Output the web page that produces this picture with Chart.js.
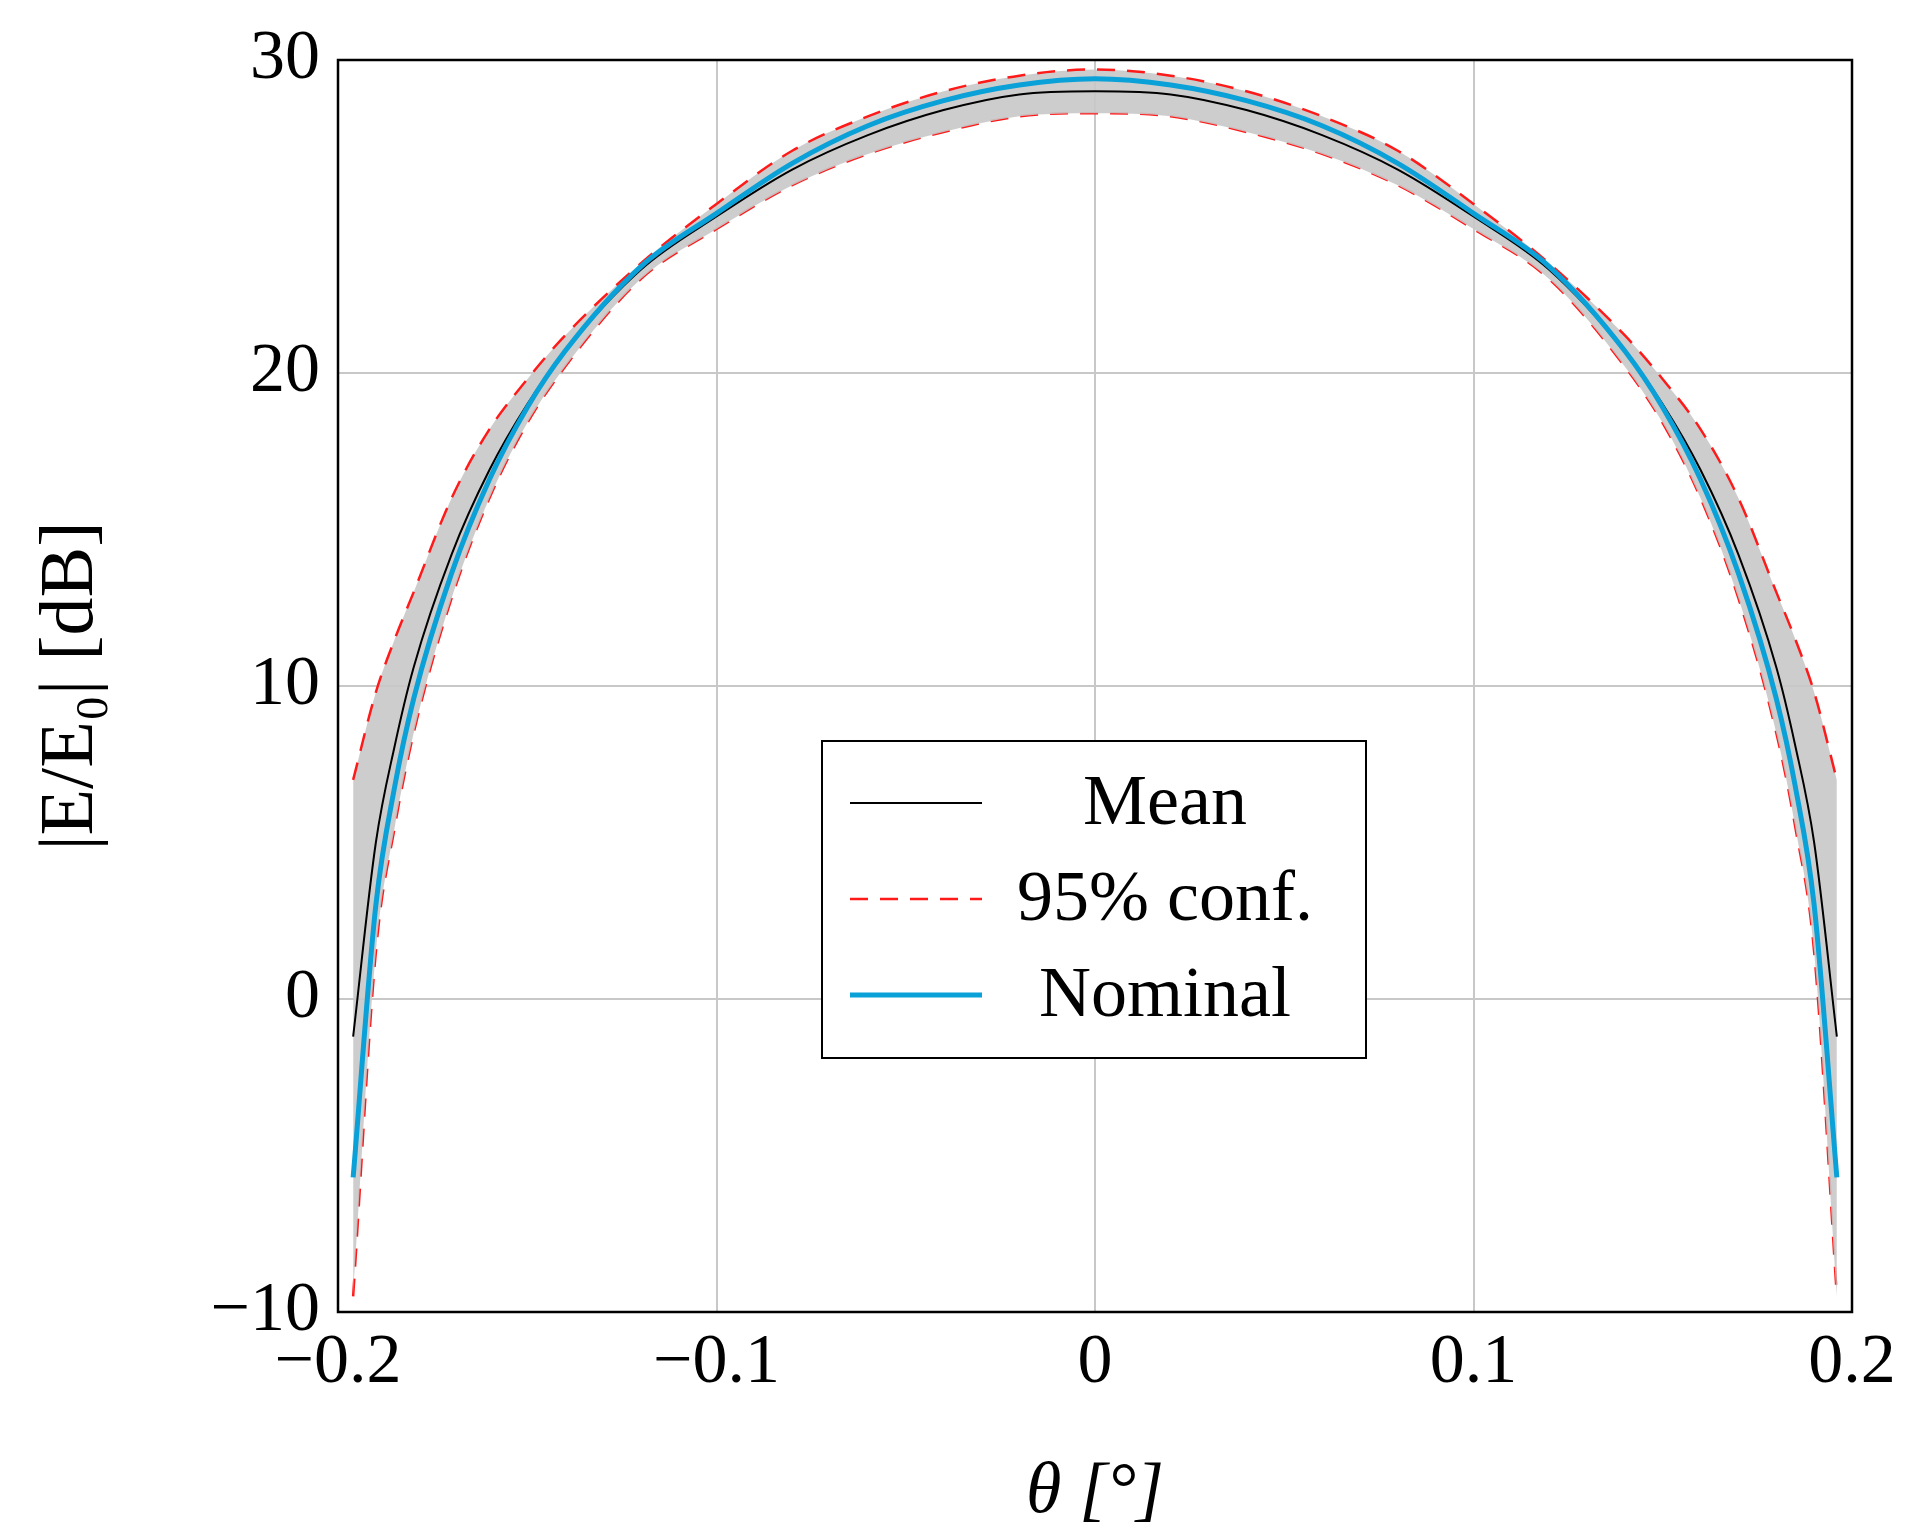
<!DOCTYPE html>
<html>
<head>
<meta charset="utf-8">
<script src="https://cdn.jsdelivr.net/npm/chart.js@4"></script>
<style>
  html, body { margin: 0; padding: 0; background: #fff; }
  #wrap { width: 1920px; height: 1540px; }
</style>
</head>
<body>
<div id="wrap"><canvas id="beam"></canvas></div>
<script>
const theta = [-0.196, -0.19, -0.185, -0.18, -0.17, -0.16, -0.15, -0.14, -0.12, -0.1, -0.08, -0.06, -0.04, -0.02, 0,
               0.02, 0.04, 0.06, 0.08, 0.1, 0.12, 0.14, 0.15, 0.16, 0.17, 0.18, 0.185, 0.19, 0.196];
const nominal = [-5.7, 3.0, 6.8, 9.6, 13.6, 16.6, 18.9, 20.7, 23.4, 25.1, 26.7, 27.9, 28.7, 29.2, 29.4,
                 29.2, 28.7, 27.9, 26.7, 25.1, 23.4, 20.7, 18.9, 16.6, 13.6, 9.6, 6.8, 3.0, -5.7];
const mean = [-1.2, 5.0, 8.1, 10.6, 14.2, 16.9, 19.0, 20.7, 23.3, 25.0, 26.5, 27.6, 28.4, 28.9, 29.0,
              28.9, 28.4, 27.6, 26.5, 25.0, 23.3, 20.7, 19.0, 16.9, 14.2, 10.6, 8.1, 5.0, -1.2];
const upper = [7.0, 9.8, 11.5, 13.0, 16.0, 18.2, 19.8, 21.2, 23.5, 25.4, 27.1, 28.2, 29.0, 29.5, 29.7,
               29.5, 29.0, 28.2, 27.1, 25.4, 23.5, 21.2, 19.8, 18.2, 16.0, 13.0, 11.5, 9.8, 7.0];
const lower = [-9.5, 1.5, 5.5, 8.5, 12.8, 16.0, 18.4, 20.2, 23.0, 24.6, 26.0, 27.0, 27.7, 28.2, 28.3,
               28.2, 27.7, 27.0, 26.0, 24.6, 23.0, 20.2, 18.4, 16.0, 12.8, 8.5, 5.5, 1.5, -9.5];
const xTicks = [-0.2, -0.1, 0, 0.1, 0.2];
const yTicks = [-10, 0, 10, 20, 30];

const serif = "'Liberation Serif', 'DejaVu Serif', serif";
const textColor = "#000";
const gridColor = "#c8c8c8";
const pts = arr => arr.map((v, i) => ({ x: theta[i], y: v }));
const fmt = v => (v < 0 ? "\u2212" : "") + Math.abs(v);

const frame = {
    id: "frame",
    afterDraw(chart) {
        const { ctx, chartArea: a } = chart;
        ctx.save();
        ctx.strokeStyle = "#000";
        ctx.lineWidth = 2.5;
        ctx.strokeRect(a.left, a.top, a.right - a.left, a.bottom - a.top);

        // legend box
        const bx = 822, by = 741, bw = 544, bh = 317;
        ctx.fillStyle = "#fff";
        ctx.fillRect(bx, by, bw, bh);
        ctx.lineWidth = 2;
        ctx.strokeRect(bx, by, bw, bh);
        const rows = [
            { label: "Mean", color: "#000", width: 2, dash: [] },
            { label: "95% conf.", color: "#ff1a1a", width: 2.5, dash: [18, 12] },
            { label: "Nominal", color: "#0aa0d8", width: 5, dash: [] },
        ];
        ctx.font = "72px " + serif;
        ctx.textAlign = "center";
        ctx.textBaseline = "middle";
        rows.forEach((r, i) => {
            const y = by + 62 + i * 96;
            ctx.beginPath();
            ctx.setLineDash(r.dash);
            ctx.strokeStyle = r.color;
            ctx.lineWidth = r.width;
            ctx.moveTo(bx + 28, y);
            ctx.lineTo(bx + 160, y);
            ctx.stroke();
            ctx.setLineDash([]);
            ctx.fillStyle = textColor;
            ctx.fillText(r.label, bx + 343, y + 2);
        });
        ctx.restore();
    },
};

const line = { fill: false, cubicInterpolationMode: "monotone", pointRadius: 0 };

new Chart(document.getElementById("beam"), {
    type: "line",
    data: {
        datasets: [
            { ...line, label: "upper", data: pts(upper), borderColor: "#ff1a1a", borderWidth: 2.5,
              borderDash: [18, 12], backgroundColor: "rgba(200,200,200,0.9)", fill: "+1", order: 3 },
            { ...line, label: "lower", data: pts(lower), borderColor: "#ff1a1a", borderWidth: 2.5,
              borderDash: [18, 12], order: 3 },
            { ...line, label: "Mean", data: pts(mean), borderColor: "#000", borderWidth: 2, order: 2 },
            { ...line, label: "Nominal", data: pts(nominal), borderColor: "#0aa0d8", borderWidth: 5, order: 1 },
        ],
    },
    options: {
        responsive: true,
        maintainAspectRatio: false,
        animation: false,
        layout: { padding: { top: 52, right: 68, left: 22 } },
        plugins: { legend: { display: false }, tooltip: { enabled: false } },
        scales: {
            x: {
                type: "linear",
                min: -0.2,
                max: 0.2,
                afterBuildTicks: s => { s.ticks = xTicks.map(v => ({ value: v })); },
                afterFit: s => { s.height = 228; },
                ticks: { color: textColor, font: { family: serif, size: 70 }, padding: 10, callback: fmt },
                grid: { color: gridColor, lineWidth: 2, drawTicks: false },
                border: { display: false },
                title: { display: true, text: "\u03b8 [\u00b0]", color: textColor, font: { family: serif, size: 72, style: "italic" }, padding: { top: 24 } },
            },
            y: {
                min: -10,
                max: 30,
                afterBuildTicks: s => { s.ticks = yTicks.map(v => ({ value: v })); },
                afterFit: s => { s.width = 316; },
                ticks: { color: textColor, font: { family: serif, size: 70 }, padding: 18, callback: fmt },
                grid: { color: gridColor, lineWidth: 2, drawTicks: false },
                border: { display: false },
                title: { display: true, text: "|E/E\u2080| [dB]", color: textColor, font: { family: serif, size: 76 }, padding: { bottom: 10 } },
            },
        },
    },
    plugins: [frame],
});
</script>
</body>
</html>
